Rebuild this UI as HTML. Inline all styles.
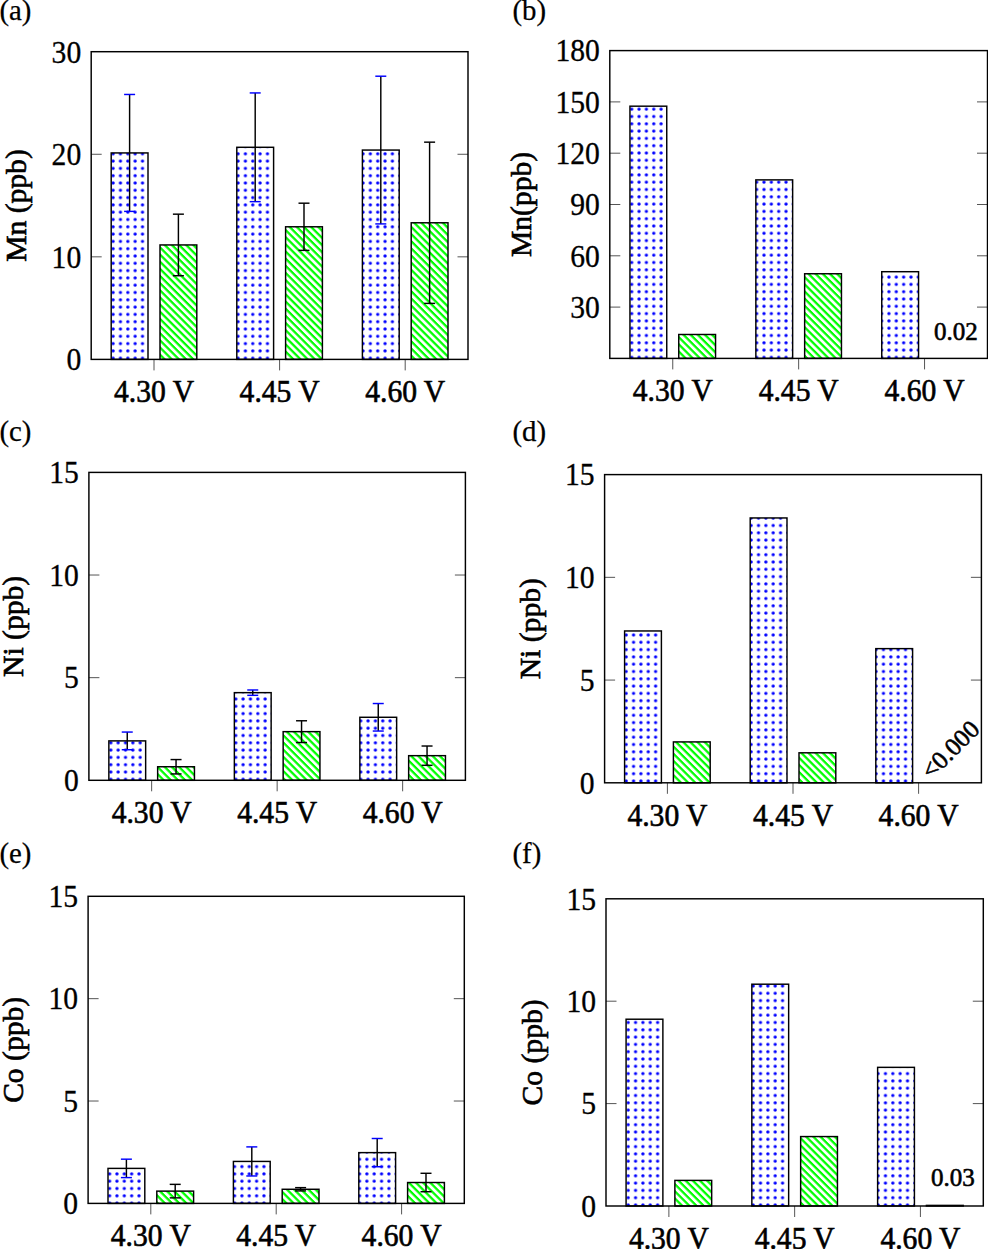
<!DOCTYPE html>
<html><head><meta charset="utf-8"><style>
html,body{margin:0;padding:0;background:#fff;}
svg{display:block;font-family:"Liberation Serif",serif;} text{stroke:#000;stroke-width:0.6px;}
</style></head><body>
<svg width="988" height="1249" viewBox="0 0 988 1249">
<defs><pattern id="dotsa" patternUnits="userSpaceOnUse" x="-0.82" y="-3.15" width="7.35" height="7.3"><circle cx="3.675" cy="3.650" r="1.65" fill="#0000ff"/></pattern><pattern id="dotsb" patternUnits="userSpaceOnUse" x="-4.08" y="3.35" width="7.35" height="7.3"><circle cx="3.675" cy="3.650" r="1.65" fill="#0000ff"/></pattern><pattern id="dotsc" patternUnits="userSpaceOnUse" x="-3.12" y="1.85" width="7.35" height="7.3"><circle cx="3.675" cy="3.650" r="1.65" fill="#0000ff"/></pattern><pattern id="dotsd" patternUnits="userSpaceOnUse" x="-2.22" y="3.55" width="7.35" height="7.3"><circle cx="3.675" cy="3.650" r="1.65" fill="#0000ff"/></pattern><pattern id="dotse" patternUnits="userSpaceOnUse" x="3.03" y="2.25" width="7.35" height="7.3"><circle cx="3.675" cy="3.650" r="1.65" fill="#0000ff"/></pattern><pattern id="dotsf" patternUnits="userSpaceOnUse" x="-0.22" y="-3.15" width="7.35" height="7.3"><circle cx="3.675" cy="3.650" r="1.65" fill="#0000ff"/></pattern><pattern id="lines" patternUnits="userSpaceOnUse" width="20" height="5.0558" patternTransform="rotate(45)"><rect x="0" y="0" width="20" height="2.25" fill="#00ff00"/></pattern></defs>
<g><rect x="111.20" y="152.93" width="36.8" height="206.47" fill="#fff"/><rect x="111.20" y="152.93" width="36.8" height="206.47" fill="url(#dotsa)" stroke="#000" stroke-width="1.45"/><rect x="160.00" y="244.94" width="36.8" height="114.46" fill="url(#lines)" stroke="#000" stroke-width="1.45"/><rect x="236.80" y="147.29" width="36.8" height="212.11" fill="#fff"/><rect x="236.80" y="147.29" width="36.8" height="212.11" fill="url(#dotsa)" stroke="#000" stroke-width="1.45"/><rect x="285.60" y="226.78" width="36.8" height="132.62" fill="url(#lines)" stroke="#000" stroke-width="1.45"/><rect x="362.40" y="150.06" width="36.8" height="209.34" fill="#fff"/><rect x="362.40" y="150.06" width="36.8" height="209.34" fill="url(#dotsa)" stroke="#000" stroke-width="1.45"/><rect x="411.20" y="222.78" width="36.8" height="136.62" fill="url(#lines)" stroke="#000" stroke-width="1.45"/><line x1="129.60" x2="129.60" y1="94.47" y2="211.40" stroke="#000" stroke-width="1.45"/><line x1="124.10" x2="135.10" y1="94.47" y2="94.47" stroke="#0000ff" stroke-width="1.45"/><line x1="124.10" x2="135.10" y1="211.40" y2="211.40" stroke="#0000ff" stroke-width="1.45"/><line x1="178.40" x2="178.40" y1="214.17" y2="275.71" stroke="#000" stroke-width="1.45"/><line x1="172.90" x2="183.90" y1="214.17" y2="214.17" stroke="#000" stroke-width="1.45"/><line x1="172.90" x2="183.90" y1="275.71" y2="275.71" stroke="#000" stroke-width="1.45"/><line x1="255.20" x2="255.20" y1="92.93" y2="201.65" stroke="#000" stroke-width="1.45"/><line x1="249.70" x2="260.70" y1="92.93" y2="92.93" stroke="#0000ff" stroke-width="1.45"/><line x1="249.70" x2="260.70" y1="201.65" y2="201.65" stroke="#0000ff" stroke-width="1.45"/><line x1="304.00" x2="304.00" y1="203.19" y2="250.37" stroke="#000" stroke-width="1.45"/><line x1="298.50" x2="309.50" y1="203.19" y2="203.19" stroke="#000" stroke-width="1.45"/><line x1="298.50" x2="309.50" y1="250.37" y2="250.37" stroke="#000" stroke-width="1.45"/><line x1="380.80" x2="380.80" y1="76.21" y2="223.91" stroke="#000" stroke-width="1.45"/><line x1="375.30" x2="386.30" y1="76.21" y2="76.21" stroke="#0000ff" stroke-width="1.45"/><line x1="375.30" x2="386.30" y1="223.91" y2="223.91" stroke="#0000ff" stroke-width="1.45"/><line x1="429.60" x2="429.60" y1="142.16" y2="303.40" stroke="#000" stroke-width="1.45"/><line x1="424.10" x2="435.10" y1="142.16" y2="142.16" stroke="#000" stroke-width="1.45"/><line x1="424.10" x2="435.10" y1="303.40" y2="303.40" stroke="#000" stroke-width="1.45"/><line x1="91.20" x2="101.70" y1="256.83" y2="256.83" stroke="#555" stroke-width="1"/><line x1="457.50" x2="468.00" y1="256.83" y2="256.83" stroke="#555" stroke-width="1"/><line x1="91.20" x2="101.70" y1="154.27" y2="154.27" stroke="#555" stroke-width="1"/><line x1="457.50" x2="468.00" y1="154.27" y2="154.27" stroke="#555" stroke-width="1"/><line x1="154.00" x2="154.00" y1="359.40" y2="370.40" stroke="#555" stroke-width="1"/><line x1="279.60" x2="279.60" y1="359.40" y2="370.40" stroke="#555" stroke-width="1"/><line x1="405.20" x2="405.20" y1="359.40" y2="370.40" stroke="#555" stroke-width="1"/><rect x="91.20" y="51.70" width="376.80" height="307.70" fill="none" stroke="#000" stroke-width="1.45"/><text transform="translate(81.20,370.21) scale(1,1.08)" text-anchor="end" font-size="29.6" style="stroke-width:0.3px">0</text><text transform="translate(81.20,267.64) scale(1,1.08)" text-anchor="end" font-size="29.6" style="stroke-width:0.3px">10</text><text transform="translate(81.20,165.07) scale(1,1.08)" text-anchor="end" font-size="29.6" style="stroke-width:0.3px">20</text><text transform="translate(81.20,62.51) scale(1,1.08)" text-anchor="end" font-size="29.6" style="stroke-width:0.3px">30</text><text transform="translate(154.00,402.18) scale(1,1.04)" text-anchor="middle" font-size="29.6">4.30 V</text><text transform="translate(279.60,402.18) scale(1,1.04)" text-anchor="middle" font-size="29.6">4.45 V</text><text transform="translate(405.20,402.18) scale(1,1.04)" text-anchor="middle" font-size="29.6">4.60 V</text><text transform="translate(25.80,205.55) rotate(-90)" x="0" y="0" text-anchor="middle" font-size="29.6" style="stroke-width:0.65px">Mn (ppb)</text><text x="-0.50" y="19.70" font-size="28.8" style="stroke-width:0.25px">(a)</text></g>
<g><rect x="629.95" y="106.18" width="36.8" height="252.22" fill="#fff"/><rect x="629.95" y="106.18" width="36.8" height="252.22" fill="url(#dotsb)" stroke="#000" stroke-width="1.45"/><rect x="678.75" y="334.49" width="36.8" height="23.91" fill="url(#lines)" stroke="#000" stroke-width="1.45"/><rect x="755.85" y="179.88" width="36.8" height="178.52" fill="#fff"/><rect x="755.85" y="179.88" width="36.8" height="178.52" fill="url(#dotsb)" stroke="#000" stroke-width="1.45"/><rect x="804.65" y="273.75" width="36.8" height="84.64" fill="url(#lines)" stroke="#000" stroke-width="1.45"/><rect x="881.75" y="271.70" width="36.8" height="86.70" fill="#fff"/><rect x="881.75" y="271.70" width="36.8" height="86.70" fill="url(#dotsb)" stroke="#000" stroke-width="1.45"/><line x1="609.80" x2="620.30" y1="307.10" y2="307.10" stroke="#555" stroke-width="1"/><line x1="977.00" x2="987.50" y1="307.10" y2="307.10" stroke="#555" stroke-width="1"/><line x1="609.80" x2="620.30" y1="255.80" y2="255.80" stroke="#555" stroke-width="1"/><line x1="977.00" x2="987.50" y1="255.80" y2="255.80" stroke="#555" stroke-width="1"/><line x1="609.80" x2="620.30" y1="204.50" y2="204.50" stroke="#555" stroke-width="1"/><line x1="977.00" x2="987.50" y1="204.50" y2="204.50" stroke="#555" stroke-width="1"/><line x1="609.80" x2="620.30" y1="153.20" y2="153.20" stroke="#555" stroke-width="1"/><line x1="977.00" x2="987.50" y1="153.20" y2="153.20" stroke="#555" stroke-width="1"/><line x1="609.80" x2="620.30" y1="101.90" y2="101.90" stroke="#555" stroke-width="1"/><line x1="977.00" x2="987.50" y1="101.90" y2="101.90" stroke="#555" stroke-width="1"/><line x1="672.75" x2="672.75" y1="358.40" y2="369.40" stroke="#555" stroke-width="1"/><line x1="798.65" x2="798.65" y1="358.40" y2="369.40" stroke="#555" stroke-width="1"/><line x1="924.55" x2="924.55" y1="358.40" y2="369.40" stroke="#555" stroke-width="1"/><rect x="609.80" y="50.60" width="377.70" height="307.80" fill="none" stroke="#000" stroke-width="1.45"/><text transform="translate(599.80,317.91) scale(1,1.08)" text-anchor="end" font-size="29.6" style="stroke-width:0.3px">30</text><text transform="translate(599.80,266.61) scale(1,1.08)" text-anchor="end" font-size="29.6" style="stroke-width:0.3px">60</text><text transform="translate(599.80,215.31) scale(1,1.08)" text-anchor="end" font-size="29.6" style="stroke-width:0.3px">90</text><text transform="translate(599.80,164.01) scale(1,1.08)" text-anchor="end" font-size="29.6" style="stroke-width:0.3px">120</text><text transform="translate(599.80,112.71) scale(1,1.08)" text-anchor="end" font-size="29.6" style="stroke-width:0.3px">150</text><text transform="translate(599.80,61.41) scale(1,1.08)" text-anchor="end" font-size="29.6" style="stroke-width:0.3px">180</text><text transform="translate(672.75,401.18) scale(1,1.04)" text-anchor="middle" font-size="29.6">4.30 V</text><text transform="translate(798.65,401.18) scale(1,1.04)" text-anchor="middle" font-size="29.6">4.45 V</text><text transform="translate(924.55,401.18) scale(1,1.04)" text-anchor="middle" font-size="29.6">4.60 V</text><text transform="translate(530.80,204.50) rotate(-90)" x="0" y="0" text-anchor="middle" font-size="29.6" style="stroke-width:0.65px">Mn(ppb)</text><text x="512.50" y="19.70" font-size="28.8" style="stroke-width:0.25px">(b)</text><text x="934.1" y="340.0" font-size="25">0.02</text></g>
<g><rect x="108.85" y="740.89" width="36.8" height="39.41" fill="#fff"/><rect x="108.85" y="740.89" width="36.8" height="39.41" fill="url(#dotsc)" stroke="#000" stroke-width="1.45"/><rect x="157.65" y="766.75" width="36.8" height="13.55" fill="url(#lines)" stroke="#000" stroke-width="1.45"/><rect x="234.35" y="692.65" width="36.8" height="87.65" fill="#fff"/><rect x="234.35" y="692.65" width="36.8" height="87.65" fill="url(#dotsc)" stroke="#000" stroke-width="1.45"/><rect x="283.15" y="731.65" width="36.8" height="48.65" fill="url(#lines)" stroke="#000" stroke-width="1.45"/><rect x="359.85" y="717.28" width="36.8" height="63.02" fill="#fff"/><rect x="359.85" y="717.28" width="36.8" height="63.02" fill="url(#dotsc)" stroke="#000" stroke-width="1.45"/><rect x="408.65" y="755.67" width="36.8" height="24.63" fill="url(#lines)" stroke="#000" stroke-width="1.45"/><line x1="127.25" x2="127.25" y1="732.06" y2="749.72" stroke="#000" stroke-width="1.45"/><line x1="121.75" x2="132.75" y1="732.06" y2="732.06" stroke="#0000ff" stroke-width="1.45"/><line x1="121.75" x2="132.75" y1="749.72" y2="749.72" stroke="#0000ff" stroke-width="1.45"/><line x1="176.05" x2="176.05" y1="759.57" y2="773.94" stroke="#000" stroke-width="1.45"/><line x1="170.55" x2="181.55" y1="759.57" y2="759.57" stroke="#000" stroke-width="1.45"/><line x1="170.55" x2="181.55" y1="773.94" y2="773.94" stroke="#000" stroke-width="1.45"/><line x1="252.75" x2="252.75" y1="689.98" y2="695.32" stroke="#000" stroke-width="1.45"/><line x1="247.25" x2="258.25" y1="689.98" y2="689.98" stroke="#0000ff" stroke-width="1.45"/><line x1="247.25" x2="258.25" y1="695.32" y2="695.32" stroke="#0000ff" stroke-width="1.45"/><line x1="301.55" x2="301.55" y1="720.77" y2="742.53" stroke="#000" stroke-width="1.45"/><line x1="296.05" x2="307.05" y1="720.77" y2="720.77" stroke="#000" stroke-width="1.45"/><line x1="296.05" x2="307.05" y1="742.53" y2="742.53" stroke="#000" stroke-width="1.45"/><line x1="378.25" x2="378.25" y1="703.53" y2="731.04" stroke="#000" stroke-width="1.45"/><line x1="372.75" x2="383.75" y1="703.53" y2="703.53" stroke="#0000ff" stroke-width="1.45"/><line x1="372.75" x2="383.75" y1="731.04" y2="731.04" stroke="#0000ff" stroke-width="1.45"/><line x1="427.05" x2="427.05" y1="746.02" y2="765.32" stroke="#000" stroke-width="1.45"/><line x1="421.55" x2="432.55" y1="746.02" y2="746.02" stroke="#000" stroke-width="1.45"/><line x1="421.55" x2="432.55" y1="765.32" y2="765.32" stroke="#000" stroke-width="1.45"/><line x1="88.90" x2="99.40" y1="677.67" y2="677.67" stroke="#555" stroke-width="1"/><line x1="454.90" x2="465.40" y1="677.67" y2="677.67" stroke="#555" stroke-width="1"/><line x1="88.90" x2="99.40" y1="575.03" y2="575.03" stroke="#555" stroke-width="1"/><line x1="454.90" x2="465.40" y1="575.03" y2="575.03" stroke="#555" stroke-width="1"/><line x1="151.65" x2="151.65" y1="780.30" y2="791.30" stroke="#555" stroke-width="1"/><line x1="277.15" x2="277.15" y1="780.30" y2="791.30" stroke="#555" stroke-width="1"/><line x1="402.65" x2="402.65" y1="780.30" y2="791.30" stroke="#555" stroke-width="1"/><rect x="88.90" y="472.40" width="376.50" height="307.90" fill="none" stroke="#000" stroke-width="1.45"/><text transform="translate(78.90,791.11) scale(1,1.08)" text-anchor="end" font-size="29.6" style="stroke-width:0.3px">0</text><text transform="translate(78.90,688.47) scale(1,1.08)" text-anchor="end" font-size="29.6" style="stroke-width:0.3px">5</text><text transform="translate(78.90,585.84) scale(1,1.08)" text-anchor="end" font-size="29.6" style="stroke-width:0.3px">10</text><text transform="translate(78.90,483.21) scale(1,1.08)" text-anchor="end" font-size="29.6" style="stroke-width:0.3px">15</text><text transform="translate(151.65,823.08) scale(1,1.04)" text-anchor="middle" font-size="29.6">4.30 V</text><text transform="translate(277.15,823.08) scale(1,1.04)" text-anchor="middle" font-size="29.6">4.45 V</text><text transform="translate(402.65,823.08) scale(1,1.04)" text-anchor="middle" font-size="29.6">4.60 V</text><text transform="translate(22.80,626.35) rotate(-90)" x="0" y="0" text-anchor="middle" font-size="29.6" style="stroke-width:0.65px">Ni (ppb)</text><text x="-0.50" y="441.30" font-size="28.8" style="stroke-width:0.25px">(c)</text></g>
<g><rect x="624.60" y="630.96" width="36.8" height="151.84" fill="#fff"/><rect x="624.60" y="630.96" width="36.8" height="151.84" fill="url(#dotsd)" stroke="#000" stroke-width="1.45"/><rect x="673.40" y="741.91" width="36.8" height="40.89" fill="url(#lines)" stroke="#000" stroke-width="1.45"/><rect x="750.20" y="517.95" width="36.8" height="264.85" fill="#fff"/><rect x="750.20" y="517.95" width="36.8" height="264.85" fill="url(#dotsd)" stroke="#000" stroke-width="1.45"/><rect x="799.00" y="752.80" width="36.8" height="30.00" fill="url(#lines)" stroke="#000" stroke-width="1.45"/><rect x="875.80" y="648.63" width="36.8" height="134.17" fill="#fff"/><rect x="875.80" y="648.63" width="36.8" height="134.17" fill="url(#dotsd)" stroke="#000" stroke-width="1.45"/><line x1="604.60" x2="615.10" y1="680.07" y2="680.07" stroke="#555" stroke-width="1"/><line x1="970.90" x2="981.40" y1="680.07" y2="680.07" stroke="#555" stroke-width="1"/><line x1="604.60" x2="615.10" y1="577.33" y2="577.33" stroke="#555" stroke-width="1"/><line x1="970.90" x2="981.40" y1="577.33" y2="577.33" stroke="#555" stroke-width="1"/><line x1="667.40" x2="667.40" y1="782.80" y2="793.80" stroke="#555" stroke-width="1"/><line x1="793.00" x2="793.00" y1="782.80" y2="793.80" stroke="#555" stroke-width="1"/><line x1="918.60" x2="918.60" y1="782.80" y2="793.80" stroke="#555" stroke-width="1"/><rect x="604.60" y="474.60" width="376.80" height="308.20" fill="none" stroke="#000" stroke-width="1.45"/><text transform="translate(594.60,793.61) scale(1,1.08)" text-anchor="end" font-size="29.6" style="stroke-width:0.3px">0</text><text transform="translate(594.60,690.87) scale(1,1.08)" text-anchor="end" font-size="29.6" style="stroke-width:0.3px">5</text><text transform="translate(594.60,588.14) scale(1,1.08)" text-anchor="end" font-size="29.6" style="stroke-width:0.3px">10</text><text transform="translate(594.60,485.41) scale(1,1.08)" text-anchor="end" font-size="29.6" style="stroke-width:0.3px">15</text><text transform="translate(667.40,825.58) scale(1,1.04)" text-anchor="middle" font-size="29.6">4.30 V</text><text transform="translate(793.00,825.58) scale(1,1.04)" text-anchor="middle" font-size="29.6">4.45 V</text><text transform="translate(918.60,825.58) scale(1,1.04)" text-anchor="middle" font-size="29.6">4.60 V</text><text transform="translate(539.80,628.70) rotate(-90)" x="0" y="0" text-anchor="middle" font-size="29.6" style="stroke-width:0.65px">Ni (ppb)</text><text x="512.50" y="441.30" font-size="28.8" style="stroke-width:0.25px">(d)</text><text transform="translate(931.3,780.5) rotate(-45)" x="0" y="0" font-size="25">&lt;0.000</text></g>
<g><rect x="108.00" y="1168.39" width="36.8" height="35.01" fill="#fff"/><rect x="108.00" y="1168.39" width="36.8" height="35.01" fill="url(#dotse)" stroke="#000" stroke-width="1.45"/><rect x="156.80" y="1191.12" width="36.8" height="12.28" fill="url(#lines)" stroke="#000" stroke-width="1.45"/><rect x="233.40" y="1161.43" width="36.8" height="41.97" fill="#fff"/><rect x="233.40" y="1161.43" width="36.8" height="41.97" fill="url(#dotse)" stroke="#000" stroke-width="1.45"/><rect x="282.20" y="1189.27" width="36.8" height="14.13" fill="url(#lines)" stroke="#000" stroke-width="1.45"/><rect x="358.80" y="1152.63" width="36.8" height="50.77" fill="#fff"/><rect x="358.80" y="1152.63" width="36.8" height="50.77" fill="url(#dotse)" stroke="#000" stroke-width="1.45"/><rect x="407.60" y="1182.52" width="36.8" height="20.88" fill="url(#lines)" stroke="#000" stroke-width="1.45"/><line x1="126.40" x2="126.40" y1="1159.18" y2="1177.60" stroke="#000" stroke-width="1.45"/><line x1="120.90" x2="131.90" y1="1159.18" y2="1159.18" stroke="#0000ff" stroke-width="1.45"/><line x1="120.90" x2="131.90" y1="1177.60" y2="1177.60" stroke="#0000ff" stroke-width="1.45"/><line x1="175.20" x2="175.20" y1="1184.36" y2="1197.87" stroke="#000" stroke-width="1.45"/><line x1="169.70" x2="180.70" y1="1184.36" y2="1184.36" stroke="#000" stroke-width="1.45"/><line x1="169.70" x2="180.70" y1="1197.87" y2="1197.87" stroke="#000" stroke-width="1.45"/><line x1="251.80" x2="251.80" y1="1146.89" y2="1175.97" stroke="#000" stroke-width="1.45"/><line x1="246.30" x2="257.30" y1="1146.89" y2="1146.89" stroke="#0000ff" stroke-width="1.45"/><line x1="246.30" x2="257.30" y1="1175.97" y2="1175.97" stroke="#0000ff" stroke-width="1.45"/><line x1="300.60" x2="300.60" y1="1187.64" y2="1190.91" stroke="#000" stroke-width="1.45"/><line x1="295.10" x2="306.10" y1="1187.64" y2="1187.64" stroke="#000" stroke-width="1.45"/><line x1="295.10" x2="306.10" y1="1190.91" y2="1190.91" stroke="#000" stroke-width="1.45"/><line x1="377.20" x2="377.20" y1="1138.50" y2="1166.75" stroke="#000" stroke-width="1.45"/><line x1="371.70" x2="382.70" y1="1138.50" y2="1138.50" stroke="#0000ff" stroke-width="1.45"/><line x1="371.70" x2="382.70" y1="1166.75" y2="1166.75" stroke="#0000ff" stroke-width="1.45"/><line x1="426.00" x2="426.00" y1="1173.30" y2="1191.73" stroke="#000" stroke-width="1.45"/><line x1="420.50" x2="431.50" y1="1173.30" y2="1173.30" stroke="#000" stroke-width="1.45"/><line x1="420.50" x2="431.50" y1="1191.73" y2="1191.73" stroke="#000" stroke-width="1.45"/><line x1="88.10" x2="98.60" y1="1101.03" y2="1101.03" stroke="#555" stroke-width="1"/><line x1="453.80" x2="464.30" y1="1101.03" y2="1101.03" stroke="#555" stroke-width="1"/><line x1="88.10" x2="98.60" y1="998.67" y2="998.67" stroke="#555" stroke-width="1"/><line x1="453.80" x2="464.30" y1="998.67" y2="998.67" stroke="#555" stroke-width="1"/><line x1="150.80" x2="150.80" y1="1203.40" y2="1214.40" stroke="#555" stroke-width="1"/><line x1="276.20" x2="276.20" y1="1203.40" y2="1214.40" stroke="#555" stroke-width="1"/><line x1="401.60" x2="401.60" y1="1203.40" y2="1214.40" stroke="#555" stroke-width="1"/><rect x="88.10" y="896.30" width="376.20" height="307.10" fill="none" stroke="#000" stroke-width="1.45"/><text transform="translate(78.10,1214.21) scale(1,1.08)" text-anchor="end" font-size="29.6" style="stroke-width:0.3px">0</text><text transform="translate(78.10,1111.84) scale(1,1.08)" text-anchor="end" font-size="29.6" style="stroke-width:0.3px">5</text><text transform="translate(78.10,1009.47) scale(1,1.08)" text-anchor="end" font-size="29.6" style="stroke-width:0.3px">10</text><text transform="translate(78.10,907.11) scale(1,1.08)" text-anchor="end" font-size="29.6" style="stroke-width:0.3px">15</text><text transform="translate(150.80,1246.18) scale(1,1.04)" text-anchor="middle" font-size="29.6">4.30 V</text><text transform="translate(276.20,1246.18) scale(1,1.04)" text-anchor="middle" font-size="29.6">4.45 V</text><text transform="translate(401.60,1246.18) scale(1,1.04)" text-anchor="middle" font-size="29.6">4.60 V</text><text transform="translate(22.60,1049.85) rotate(-90)" x="0" y="0" text-anchor="middle" font-size="29.6" style="stroke-width:0.65px">Co (ppb)</text><text x="-0.50" y="862.70" font-size="28.8" style="stroke-width:0.25px">(e)</text></g>
<g><rect x="626.08" y="1019.22" width="36.8" height="186.78" fill="#fff"/><rect x="626.08" y="1019.22" width="36.8" height="186.78" fill="url(#dotsf)" stroke="#000" stroke-width="1.45"/><rect x="674.88" y="1180.40" width="36.8" height="25.60" fill="url(#lines)" stroke="#000" stroke-width="1.45"/><rect x="751.85" y="984.20" width="36.8" height="221.80" fill="#fff"/><rect x="751.85" y="984.20" width="36.8" height="221.80" fill="url(#dotsf)" stroke="#000" stroke-width="1.45"/><rect x="800.65" y="1136.57" width="36.8" height="69.43" fill="url(#lines)" stroke="#000" stroke-width="1.45"/><rect x="877.62" y="1067.35" width="36.8" height="138.65" fill="#fff"/><rect x="877.62" y="1067.35" width="36.8" height="138.65" fill="url(#dotsf)" stroke="#000" stroke-width="1.45"/><rect x="926.42" y="1205.39" width="36.8" height="0.61" fill="url(#lines)" stroke="#000" stroke-width="1.45"/><line x1="606.00" x2="616.50" y1="1103.60" y2="1103.60" stroke="#555" stroke-width="1"/><line x1="972.80" x2="983.30" y1="1103.60" y2="1103.60" stroke="#555" stroke-width="1"/><line x1="606.00" x2="616.50" y1="1001.20" y2="1001.20" stroke="#555" stroke-width="1"/><line x1="972.80" x2="983.30" y1="1001.20" y2="1001.20" stroke="#555" stroke-width="1"/><line x1="668.88" x2="668.88" y1="1206.00" y2="1217.00" stroke="#555" stroke-width="1"/><line x1="794.65" x2="794.65" y1="1206.00" y2="1217.00" stroke="#555" stroke-width="1"/><line x1="920.42" x2="920.42" y1="1206.00" y2="1217.00" stroke="#555" stroke-width="1"/><rect x="606.00" y="898.80" width="377.30" height="307.20" fill="none" stroke="#000" stroke-width="1.45"/><text transform="translate(596.00,1216.81) scale(1,1.08)" text-anchor="end" font-size="29.6" style="stroke-width:0.3px">0</text><text transform="translate(596.00,1114.41) scale(1,1.08)" text-anchor="end" font-size="29.6" style="stroke-width:0.3px">5</text><text transform="translate(596.00,1012.01) scale(1,1.08)" text-anchor="end" font-size="29.6" style="stroke-width:0.3px">10</text><text transform="translate(596.00,909.61) scale(1,1.08)" text-anchor="end" font-size="29.6" style="stroke-width:0.3px">15</text><text transform="translate(668.88,1248.78) scale(1,1.04)" text-anchor="middle" font-size="29.6">4.30 V</text><text transform="translate(794.65,1248.78) scale(1,1.04)" text-anchor="middle" font-size="29.6">4.45 V</text><text transform="translate(920.42,1248.78) scale(1,1.04)" text-anchor="middle" font-size="29.6">4.60 V</text><text transform="translate(541.60,1052.40) rotate(-90)" x="0" y="0" text-anchor="middle" font-size="29.6" style="stroke-width:0.65px">Co (ppb)</text><text x="512.50" y="862.70" font-size="28.8" style="stroke-width:0.25px">(f)</text><text x="930.9" y="1185.9" font-size="25">0.03</text></g>
</svg></body></html>
